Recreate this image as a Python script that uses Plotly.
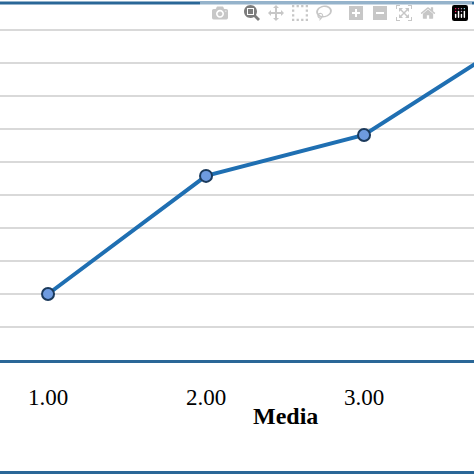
import plotly.graph_objects as go

# Media levels and plotted means
media = [1.0, 2.0, 3.0, 4.0]
means = [2.0, 5.58, 6.82, 9.88]
tick_vals = [1.0, 2.0, 3.0, 4.0]
tick_text = ["1.00", "2.00", "3.00", "4.00"]

blue_line = "#1f6fb2"
frame = "#2a6797"

fig = go.Figure()
fig.add_trace(go.Scatter(
    x=media, y=means, mode="lines+markers",
    line=dict(color=blue_line, width=4),
    marker=dict(size=12, color="#6e9be0", line=dict(color="#1b3a5c", width=2)),
    cliponaxis=False,
))

fig.update_layout(
    width=474, height=474,
    margin=dict(l=0, r=0, t=3, b=114),
    plot_bgcolor="white", paper_bgcolor="white",
    showlegend=False,
    font=dict(family="Liberation Serif", color="black"),
    xaxis=dict(range=[0.696, 3.696], tickvals=tick_vals, ticktext=tick_text,
               showgrid=False, zeroline=False, showline=True, linecolor=frame, linewidth=3,
               tickfont=dict(size=23), ticks="", ticklabelstandoff=14),
    yaxis=dict(range=[0, 10.82], dtick=1, showticklabels=False, zeroline=False,
               gridcolor="#d9d9d9", gridwidth=2),
)

# top and bottom frame lines
fig.add_shape(type="line", xref="paper", yref="paper", x0=0, x1=1, y0=1, y1=1,
              line=dict(color=frame, width=3))
fig.add_shape(type="line", xref="paper", yref="paper", x0=0, x1=1, y0=-0.315, y1=-0.315,
              line=dict(color=frame, width=3))

fig.add_annotation(x=2.5, y=-0.2, xref="x", yref="paper", text="<b>Media</b>",
                   showarrow=False, font=dict(size=24, family="Liberation Serif"))

fig.write_html("out.html", post_script="document.body.style.margin='0';")
